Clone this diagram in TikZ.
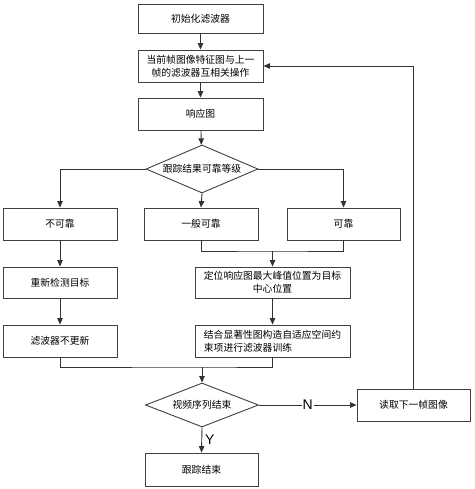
\documentclass[tikz,border=0pt]{standalone}
\usepackage{fontspec}
\newfontfamily\cjk{Noto Sans CJK SC}
\setmainfont{Liberation Sans}
\usetikzlibrary{shapes.geometric,arrows.meta}
\begin{document}
\begin{tikzpicture}[x=1pt,y=-1pt,
  line width=0.9pt, draw=black!80,
  box/.style={draw=black!75, rectangle, inner sep=0pt, font=\cjk\fontsize{9.8}{13}\selectfont, align=center},
  dia/.style={draw=black!75, diamond, inner sep=0pt, font=\cjk\fontsize{9.8}{13}\selectfont, align=center},
  arr/.style={-{Triangle[length=6.5pt,width=5.5pt]}},
  lab/.style={font=\fontsize{14}{16}\selectfont, inner sep=1pt}
]
\useasboundingbox (0,0) rectangle (474,489);
\node[box, minimum width=125, minimum height=29] (b1) at (200.5,18.5) {初始化滤波器};
\node[box, minimum width=125, minimum height=32] (b2) at (200.5,66) {当前帧图像特征图与上一\\帧的滤波器互相关操作};
\node[box, minimum width=125, minimum height=32] (b3) at (200.5,114) {响应图};
\node[dia, minimum width=112, minimum height=48, aspect=2.33] (d1) at (202,169) {};
\node[font=\cjk\fontsize{9.8}{13}\selectfont] at (d1.center) {跟踪结果可靠等级};
\node[box, minimum width=114, minimum height=32] (ba) at (60,224) {不可靠};
\node[box, minimum width=114, minimum height=32] (bb) at (201,224) {一般可靠};
\node[box, minimum width=113, minimum height=32] (bc) at (343.5,224) {可靠};
\node[box, minimum width=114, minimum height=31] (bd) at (60,282.5) {重新检测目标};
\node[box, minimum width=155, minimum height=31] (be) at (272.5,282.5) {定位响应图最大峰值位置为目标\\中心位置};
\node[box, minimum width=114, minimum height=32] (bf) at (60,341) {滤波器不更新};
\node[box, minimum width=155, minimum height=32, align=left] (bg) at (272.5,341) {结合显著性图构造自适应空间约\\束项进行滤波器训练};
\node[dia, minimum width=113, minimum height=44, aspect=2.57] (d2) at (202,405) {};
\node[font=\cjk\fontsize{9.8}{13}\selectfont] at (d2.center) {视频序列结束};
\node[box, minimum width=113, minimum height=32] (bh) at (413.5,405) {读取下一帧图像};
\node[box, minimum width=113, minimum height=33] (bi) at (201.5,469.5) {跟踪结束};
\coordinate (m1) at (272.5,251);
\coordinate (m2) at (202,367);
\begin{scope}[draw=black!80]
\draw[arr] (b1) -- (b2);
\draw[arr] (b2) -- (b3);
\draw[arr] (b3) -- (d1);
\draw[arr] (d1.west) -| (ba.north);
\draw[arr] (d1.south) -- (bb.north);
\draw[arr] (d1.east) -| (bc.north);
\draw[arr] (ba) -- (bd);
\draw (bb.south) |- (m1) -| (bc.south);
\draw[arr] (m1) -- (be.north);
\draw[arr] (bd) -- (bf);
\draw[arr] (be) -- (bg);
\draw (bf.south) |- (m2) -| (bg.south);
\draw[arr] (m2) -- (d2.north);
\draw[arr] (d2.east) -- node[lab, fill=white] {N} (bh.west);
\draw[arr] (d2.south) -- node[lab, right=2pt] {Y} (bi.north);
\draw[arr] (bh.north) |- (b2.east);
\end{scope}
\end{tikzpicture}
\end{document}
